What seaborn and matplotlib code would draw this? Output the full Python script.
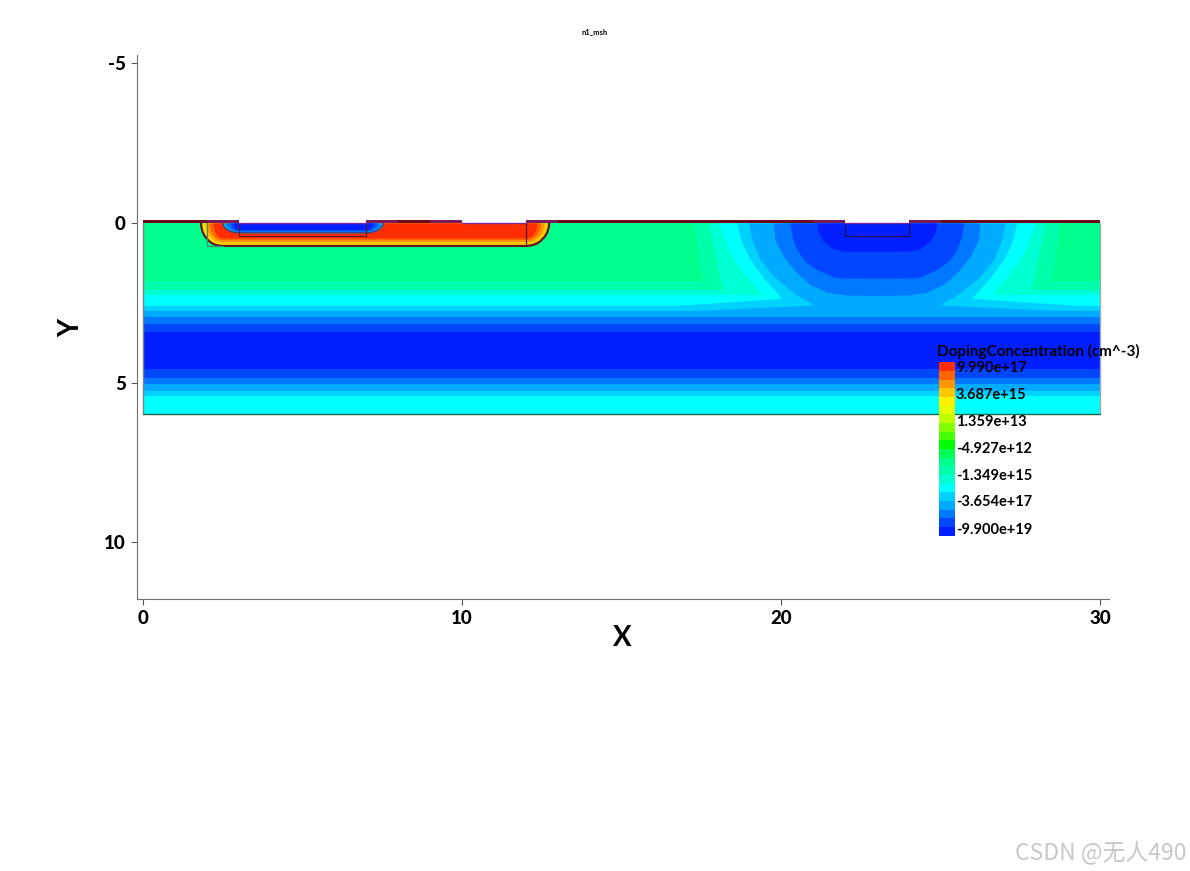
import numpy as np
import matplotlib
matplotlib.use("Agg")
import matplotlib.pyplot as plt
from matplotlib.colors import ListedColormap
import seaborn as sns

sns.set_theme(style="ticks")
FONT = ["Lato", "DejaVu Sans"]
plt.rcParams["font.family"] = FONT
plt.rcParams["axes.unicode_minus"] = False

# doping level colours, lowest (most negative) to highest
level_rgb = [(0, 30, 255), (0, 70, 255), (0, 120, 255), (0, 170, 255), (0, 210, 255),
             (0, 255, 255), (0, 255, 210), (0, 255, 170), (0, 255, 140), (0, 255, 80),
             (0, 255, 0), (70, 255, 0), (130, 255, 0), (190, 255, 0), (230, 255, 0),
             (255, 240, 0), (255, 200, 0), (255, 150, 0), (255, 100, 0), (255, 45, 0)]
bar_labels = ["9.990e+17", "3.687e+15", "1.359e+13", "-4.927e+12",
              "-1.349e+15", "-3.654e+17", "-9.900e+19"]

# horizontal bands: depth of the lower edge and level of each band
band_bottom = [1.83, 2.10, 2.25, 2.60, 2.77, 2.95, 3.16, 3.43, 4.56, 4.86, 5.06, 5.25, 5.43, 5.97, 6.0]
band_level = [8, 7, 6, 5, 4, 3, 2, 1, 0, 1, 2, 3, 4, 5, 6]

# right-hand n region: half-width against depth for each level, outermost first
arch_centre = 23.0
arch_levels = [7, 6, 5, 4, 3, 2, 1, 0]
arch_depth = [[0, 1.72, 1.83],
              [0, 0.73, 1.98, 2.10],
              [0, 0.94, 1.56, 2.25],
              [0, 0.63, 1.15, 1.72, 2.36, 2.60],
              [0, 0.52, 1.15, 1.67, 2.19, 2.57, 2.77],
              [0, 0.52, 1.04, 1.51, 1.93, 2.17, 2.26, 2.27],
              [0, 0.42, 0.83, 1.20, 1.46, 1.69, 1.72, 1.73],
              [0, 0.31, 0.57, 0.81, 0.885, 0.89]]
arch_halfwidth = [[5.75, 5.49, 5.40],
                  [5.28, 5.12, 4.86, 4.80],
                  [4.96, 4.60, 4.18, 3.60],
                  [4.39, 4.23, 3.97, 3.55, 2.98, 6.5],
                  [4.02, 3.92, 3.66, 3.24, 2.61, 1.98, 6.3],
                  [3.24, 3.19, 2.93, 2.56, 2.09, 1.57, 0.94, 0.0],
                  [2.72, 2.66, 2.51, 2.25, 1.88, 1.36, 1.15, 0.0],
                  [1.88, 1.83, 1.67, 1.36, 1.05, 0.0]]

# rounded-corner profile shared by the well and the pocket
corner_depth = [0, 0.2, 0.4, 0.6, 0.8, 0.9, 0.97, 1.0]
corner_width = [0, 0.02, 0.08, 0.20, 0.40, 0.56, 0.76, 1.0]

# p well: levels outer to inner
well_levels = [15, 16, 17, 18, 19]
well_depths = [0.72, 0.65, 0.585, 0.525, 0.47]
well_insets = [0.0, 0.08, 0.16, 0.26, 0.38]
well_left, well_flat_left, well_flat_right, well_right = 1.82, 2.47, 12.03, 12.73

# n pocket inside the well
pocket_levels = [3, 2, 1, 0]
pocket_depths = [0.31, 0.27, 0.24, 0.20]
pocket_insets = [0.0, 0.10, 0.22, 0.34]
pocket_left, pocket_flat_left, pocket_flat_right, pocket_right = 2.50, 3.0, 7.0, 7.53

# surface strip
maroon_spans = [(0, 2), (8, 9), (13, 21), (25, 30)]
purple_spans = [(2, 3), (7, 8), (9, 10), (12, 13), (21, 22), (24, 25)]
surface_gaps = [(3, 7), (10, 12), (22, 24)]
implant_boxes = [(3, 7, 0.41, "#5a1a30"), (22, 24, 0.41, "#1a1050")]

W, H = 1190, 871
level_hex = [tuple(c / 255 for c in rgb) for rgb in level_rgb]

fig = plt.figure(figsize=(W / 100, H / 100), dpi=100, facecolor="white")
ax = fig.add_axes([137 / W, 1 - 599 / H, (1109 - 137) / W, (599 - 55) / H])
ax.set_facecolor("white")
ax.set_xlim(-0.188, 30.28)
ax.set_ylim(11.78, -5.26)


def fill_x(depth, left, right, col, z):
    ax.fill_betweenx(depth, left, right, color=col, lw=0, zorder=z)


# base bands
top = 0.0
for bottom, lev in zip(band_bottom, band_level):
    ax.fill_between([0, 30], top, bottom + 0.02, color=level_hex[lev], lw=0, zorder=1)
    top = bottom

# arches
for i, (lev, d, hw) in enumerate(zip(arch_levels, arch_depth, arch_halfwidth)):
    hw = np.array(hw)
    fill_x(d, arch_centre - hw, arch_centre + hw, level_hex[lev], 2 + i * 0.01)


def rounded(levels, depths, insets, x_l, x_fl, x_fr, x_r, z):
    f = np.array(corner_depth)
    w = np.array(corner_width)
    polys = None
    for i, (lev, dep, ins) in enumerate(zip(levels, depths, insets)):
        left = x_l + ins + (x_fl - x_l - ins) * w
        right = x_r - ins - (x_r - x_fr - ins) * w
        fill_x(f * dep, left, right, level_hex[lev], z + i * 0.01)
        if i == 0:
            polys = (f * dep, left, right)
    return polys


d_w, l_w, r_w = rounded(well_levels, well_depths, well_insets, well_left,
                        well_flat_left, well_flat_right, well_right, 3)
d_p, l_p, r_p = rounded(pocket_levels, pocket_depths, pocket_insets, pocket_left,
                        pocket_flat_left, pocket_flat_right, pocket_right, 4)
ax.plot(np.r_[l_w, r_w[::-1]], np.r_[d_w, d_w[::-1]], color="#6a1420", lw=1.6, zorder=5)
ax.plot(np.r_[l_p, r_p[::-1]], np.r_[d_p, d_p[::-1]], color="#4a3a70", lw=0.9, zorder=5)

# implant outlines
for x0, x1, dep, col in implant_boxes:
    ax.plot([x0, x0, x1, x1], [0, dep, dep, 0], color=col, lw=0.9, zorder=6)
ax.plot([12, 12], [0, 0.72], color="#4a2030", lw=0.9, zorder=6)
ax.plot([2, 2, 2.5], [0, 0.72, 0.72], color="#3c8a70", lw=0.9, zorder=6)

# surface strip
for x0, x1 in maroon_spans:
    ax.fill_between([x0, x1], -0.1, 0, color="#6a0a1e", lw=0, zorder=7)
for x0, x1 in purple_spans:
    ax.fill_between([x0, x1], -0.1, 0, color="#7a1a5a", lw=0, zorder=7)
for x0, x1 in surface_gaps:
    ax.plot([x0, x1], [0, 0], color="#7a2a9a", lw=1.0, zorder=7)

# device frame
ax.plot([0, 0], [0, 6], color="#808080", lw=1.0, zorder=8)
ax.plot([30, 30], [0, 6], color="#a8a8a8", lw=1.0, zorder=8)
ax.plot([0, 30], [6, 6], color="#1a6a50", lw=1.0, zorder=8)

# axes
sns.despine(ax=ax)
for s in ("left", "bottom"):
    ax.spines[s].set_color("#707070")
    ax.spines[s].set_linewidth(0.8)
ax.set_xticks([0, 10, 20, 30])
ax.set_yticks([-5, 0, 5, 10])
ax.tick_params(length=4, width=0.8, color="#555555", labelsize=13.5, labelcolor="black", pad=4)
for t in ax.get_xticklabels() + ax.get_yticklabels():
    t.set_fontweight(900)


def ptext(x, y, s, **kw):
    fig.text(x / W, 1 - y / H, s, **kw)


ptext(622, 638, "X", fontsize=20, fontweight="bold", ha="center", va="center", color="black")
ptext(71, 328, "Y", fontsize=20, fontweight="bold", ha="center", va="center", rotation=90, color="black")
ptext(595, 32, "n1_msh", fontsize=5.5, fontweight="bold", ha="center", va="center", color="black")

# colour bar
cax = fig.add_axes([939 / W, 1 - 535.5 / H, 16 / W, 173 / H], zorder=10)
strip = np.arange(len(level_rgb))[::-1].reshape(-1, 1)
sns.heatmap(strip, ax=cax, cmap=ListedColormap(level_hex), cbar=False,
            xticklabels=False, yticklabels=False, vmin=-0.5, vmax=len(level_rgb) - 0.5)
ptext(937, 351, "DopingConcentration (cm^-3)", fontsize=11, fontweight="bold",
      ha="left", va="center", color="black", zorder=11)
for i, lab in enumerate(bar_labels):
    ptext(956, 367.5 + i * 27, lab, fontsize=10.5, fontweight="bold", ha="left", va="center",
          color="black", zorder=11)

ptext(1101, 852, "CSDN @无人490", fontsize=16.5, ha="center", va="center", color="#c8c8c8",
      family=["Noto Sans CJK SC", "DejaVu Sans"])

fig.savefig("out.png", dpi=100, facecolor="white")
